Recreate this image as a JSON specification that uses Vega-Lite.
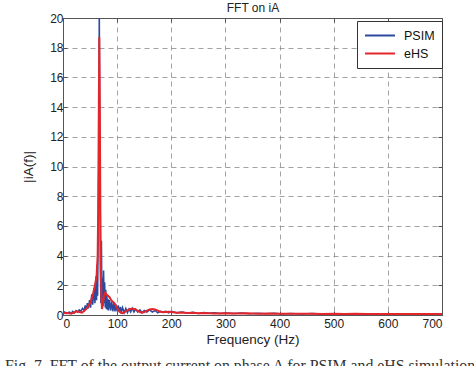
{
  "$schema": "https://vega.github.io/schema/vega-lite/v6.json",
  "width": 379,
  "height": 297,
  "autosize": {"type": "none"},
  "padding": {"left": 63, "top": 18, "right": 32, "bottom": 51},
  "background": "white",
  "title": {
    "text": "Fig. 7. FFT of the output current on phase A for PSIM and eHS simulations",
    "orient": "bottom",
    "anchor": "start",
    "frame": "group",
    "dx": -58,
    "offset": 13,
    "font": "Liberation Serif",
    "fontSize": 15.8,
    "fontWeight": "normal",
    "color": "#333"
  },
  "config": {
    "view": {"stroke": "#555", "strokeWidth": 1},
    "axis": {
      "labelFont": "Liberation Sans",
      "labelFontSize": 12,
      "labelColor": "#222",
      "titleFont": "Liberation Sans",
      "titleFontSize": 13.5,
      "titleFontWeight": "normal",
      "titleColor": "#222",
      "domainColor": "#555",
      "tickColor": "#555",
      "tickSize": -4,
      "grid": true,
      "gridColor": "#8a8a8a",
      "gridDash": [5, 4],
      "gridWidth": 0.8
    }
  },
  "data": {
    "values": [
      {"f":0,"v":0.1,"s":"PSIM"},{"f":3,"v":0.2,"s":"PSIM"},{"f":6,"v":0.1,"s":"PSIM"},{"f":9,"v":0.15,"s":"PSIM"},{"f":12,"v":0.2,"s":"PSIM"},{"f":15,"v":0.1,"s":"PSIM"},{"f":18,"v":0.25,"s":"PSIM"},{"f":21,"v":0.15,"s":"PSIM"},{"f":24,"v":0.3,"s":"PSIM"},{"f":27,"v":0.2,"s":"PSIM"},{"f":30,"v":0.35,"s":"PSIM"},{"f":33,"v":0.25,"s":"PSIM"},{"f":36,"v":0.45,"s":"PSIM"},{"f":39,"v":0.3,"s":"PSIM"},{"f":41,"v":0.65,"s":"PSIM"},{"f":43,"v":0.35,"s":"PSIM"},{"f":45,"v":0.8,"s":"PSIM"},{"f":47,"v":0.45,"s":"PSIM"},{"f":49,"v":1.0,"s":"PSIM"},{"f":51,"v":0.5,"s":"PSIM"},{"f":53,"v":1.4,"s":"PSIM"},{"f":55,"v":0.7,"s":"PSIM"},{"f":57,"v":1.8,"s":"PSIM"},{"f":59,"v":0.8,"s":"PSIM"},{"f":61,"v":2.6,"s":"PSIM"},{"f":62,"v":1.0,"s":"PSIM"},{"f":63,"v":3.4,"s":"PSIM"},{"f":64,"v":1.3,"s":"PSIM"},{"f":65,"v":5.5,"s":"PSIM"},{"f":66,"v":10,"s":"PSIM"},{"f":67,"v":21,"s":"PSIM"},{"f":68,"v":12,"s":"PSIM"},{"f":69,"v":3.0,"s":"PSIM"},{"f":70,"v":0.8,"s":"PSIM"},{"f":71,"v":5.0,"s":"PSIM"},{"f":72,"v":0.6,"s":"PSIM"},{"f":73,"v":2.5,"s":"PSIM"},{"f":74,"v":0.6,"s":"PSIM"},{"f":75,"v":3.0,"s":"PSIM"},{"f":76,"v":0.8,"s":"PSIM"},{"f":77,"v":2.2,"s":"PSIM"},{"f":78,"v":0.5,"s":"PSIM"},{"f":79,"v":1.7,"s":"PSIM"},{"f":80,"v":0.4,"s":"PSIM"},{"f":81,"v":1.3,"s":"PSIM"},{"f":82,"v":0.35,"s":"PSIM"},{"f":83,"v":1.1,"s":"PSIM"},{"f":84,"v":0.3,"s":"PSIM"},{"f":86,"v":1.0,"s":"PSIM"},{"f":88,"v":0.3,"s":"PSIM"},{"f":90,"v":0.9,"s":"PSIM"},{"f":92,"v":0.25,"s":"PSIM"},{"f":94,"v":0.8,"s":"PSIM"},{"f":96,"v":0.25,"s":"PSIM"},{"f":98,"v":0.7,"s":"PSIM"},{"f":100,"v":0.25,"s":"PSIM"},{"f":102,"v":0.65,"s":"PSIM"},{"f":104,"v":0.2,"s":"PSIM"},{"f":106,"v":0.55,"s":"PSIM"},{"f":108,"v":0.2,"s":"PSIM"},{"f":110,"v":0.5,"s":"PSIM"},{"f":113,"v":0.15,"s":"PSIM"},{"f":116,"v":0.45,"s":"PSIM"},{"f":119,"v":0.15,"s":"PSIM"},{"f":122,"v":0.4,"s":"PSIM"},{"f":125,"v":0.2,"s":"PSIM"},{"f":128,"v":0.45,"s":"PSIM"},{"f":131,"v":0.2,"s":"PSIM"},{"f":134,"v":0.4,"s":"PSIM"},{"f":138,"v":0.2,"s":"PSIM"},{"f":142,"v":0.35,"s":"PSIM"},{"f":146,"v":0.15,"s":"PSIM"},{"f":150,"v":0.3,"s":"PSIM"},{"f":155,"v":0.2,"s":"PSIM"},{"f":160,"v":0.35,"s":"PSIM"},{"f":165,"v":0.2,"s":"PSIM"},{"f":170,"v":0.3,"s":"PSIM"},{"f":175,"v":0.15,"s":"PSIM"},{"f":180,"v":0.25,"s":"PSIM"},{"f":185,"v":0.2,"s":"PSIM"},{"f":190,"v":0.25,"s":"PSIM"},{"f":195,"v":0.15,"s":"PSIM"},{"f":200,"v":0.25,"s":"PSIM"},{"f":210,"v":0.15,"s":"PSIM"},{"f":220,"v":0.2,"s":"PSIM"},{"f":230,"v":0.12,"s":"PSIM"},{"f":240,"v":0.18,"s":"PSIM"},{"f":250,"v":0.1,"s":"PSIM"},{"f":260,"v":0.17,"s":"PSIM"},{"f":270,"v":0.12,"s":"PSIM"},{"f":280,"v":0.15,"s":"PSIM"},{"f":290,"v":0.1,"s":"PSIM"},{"f":300,"v":0.14,"s":"PSIM"},{"f":315,"v":0.1,"s":"PSIM"},{"f":330,"v":0.13,"s":"PSIM"},{"f":345,"v":0.08,"s":"PSIM"},{"f":360,"v":0.12,"s":"PSIM"},{"f":375,"v":0.08,"s":"PSIM"},{"f":390,"v":0.11,"s":"PSIM"},{"f":405,"v":0.07,"s":"PSIM"},{"f":420,"v":0.1,"s":"PSIM"},{"f":440,"v":0.07,"s":"PSIM"},{"f":460,"v":0.1,"s":"PSIM"},{"f":480,"v":0.06,"s":"PSIM"},{"f":500,"v":0.09,"s":"PSIM"},{"f":520,"v":0.06,"s":"PSIM"},{"f":540,"v":0.08,"s":"PSIM"},{"f":560,"v":0.05,"s":"PSIM"},{"f":580,"v":0.08,"s":"PSIM"},{"f":600,"v":0.05,"s":"PSIM"},{"f":620,"v":0.07,"s":"PSIM"},{"f":640,"v":0.05,"s":"PSIM"},{"f":660,"v":0.07,"s":"PSIM"},{"f":680,"v":0.05,"s":"PSIM"},{"f":700,"v":0.06,"s":"PSIM"},
      {"f":0,"v":0.1,"s":"eHS"},{"f":5,"v":0.15,"s":"eHS"},{"f":10,"v":0.12,"s":"eHS"},{"f":15,"v":0.1,"s":"eHS"},{"f":20,"v":0.15,"s":"eHS"},{"f":25,"v":0.25,"s":"eHS"},{"f":30,"v":0.2,"s":"eHS"},{"f":35,"v":0.15,"s":"eHS"},{"f":40,"v":0.3,"s":"eHS"},{"f":45,"v":0.5,"s":"eHS"},{"f":50,"v":0.8,"s":"eHS"},{"f":53,"v":1.1,"s":"eHS"},{"f":56,"v":1.5,"s":"eHS"},{"f":59,"v":2.0,"s":"eHS"},{"f":62,"v":2.6,"s":"eHS"},{"f":64,"v":4.0,"s":"eHS"},{"f":65,"v":7,"s":"eHS"},{"f":66,"v":13,"s":"eHS"},{"f":67,"v":18.7,"s":"eHS"},{"f":68,"v":14,"s":"eHS"},{"f":69,"v":7,"s":"eHS"},{"f":70,"v":3.0,"s":"eHS"},{"f":71,"v":1.2,"s":"eHS"},{"f":72,"v":0.4,"s":"eHS"},{"f":74,"v":0.8,"s":"eHS"},{"f":76,"v":1.3,"s":"eHS"},{"f":78,"v":1.5,"s":"eHS"},{"f":80,"v":1.4,"s":"eHS"},{"f":83,"v":1.3,"s":"eHS"},{"f":86,"v":1.2,"s":"eHS"},{"f":89,"v":1.0,"s":"eHS"},{"f":92,"v":0.9,"s":"eHS"},{"f":95,"v":0.8,"s":"eHS"},{"f":98,"v":0.6,"s":"eHS"},{"f":101,"v":0.4,"s":"eHS"},{"f":104,"v":0.25,"s":"eHS"},{"f":107,"v":0.15,"s":"eHS"},{"f":110,"v":0.12,"s":"eHS"},{"f":114,"v":0.2,"s":"eHS"},{"f":118,"v":0.3,"s":"eHS"},{"f":122,"v":0.38,"s":"eHS"},{"f":126,"v":0.42,"s":"eHS"},{"f":130,"v":0.42,"s":"eHS"},{"f":134,"v":0.38,"s":"eHS"},{"f":138,"v":0.3,"s":"eHS"},{"f":142,"v":0.2,"s":"eHS"},{"f":146,"v":0.15,"s":"eHS"},{"f":150,"v":0.2,"s":"eHS"},{"f":155,"v":0.3,"s":"eHS"},{"f":160,"v":0.38,"s":"eHS"},{"f":165,"v":0.4,"s":"eHS"},{"f":170,"v":0.38,"s":"eHS"},{"f":175,"v":0.3,"s":"eHS"},{"f":180,"v":0.22,"s":"eHS"},{"f":185,"v":0.18,"s":"eHS"},{"f":190,"v":0.2,"s":"eHS"},{"f":195,"v":0.22,"s":"eHS"},{"f":200,"v":0.2,"s":"eHS"},{"f":210,"v":0.15,"s":"eHS"},{"f":220,"v":0.17,"s":"eHS"},{"f":230,"v":0.13,"s":"eHS"},{"f":240,"v":0.15,"s":"eHS"},{"f":250,"v":0.12,"s":"eHS"},{"f":260,"v":0.14,"s":"eHS"},{"f":280,"v":0.1,"s":"eHS"},{"f":300,"v":0.12,"s":"eHS"},{"f":320,"v":0.1,"s":"eHS"},{"f":340,"v":0.11,"s":"eHS"},{"f":360,"v":0.09,"s":"eHS"},{"f":380,"v":0.1,"s":"eHS"},{"f":400,"v":0.08,"s":"eHS"},{"f":420,"v":0.09,"s":"eHS"},{"f":440,"v":0.08,"s":"eHS"},{"f":460,"v":0.09,"s":"eHS"},{"f":480,"v":0.07,"s":"eHS"},{"f":500,"v":0.08,"s":"eHS"},{"f":520,"v":0.07,"s":"eHS"},{"f":540,"v":0.08,"s":"eHS"},{"f":560,"v":0.06,"s":"eHS"},{"f":580,"v":0.07,"s":"eHS"},{"f":600,"v":0.06,"s":"eHS"},{"f":620,"v":0.07,"s":"eHS"},{"f":640,"v":0.06,"s":"eHS"},{"f":660,"v":0.07,"s":"eHS"},{"f":680,"v":0.06,"s":"eHS"},{"f":700,"v":0.07,"s":"eHS"}
    ]
  },
  "layer": [
    {
      "transform": [{"filter": "datum.s === 'PSIM'"}],
      "mark": {"type": "line", "strokeWidth": 1.5, "clip": true, "interpolate": "linear"},
      "encoding": {
        "x": {"field": "f", "type": "quantitative", "scale": {"domain": [0, 700], "nice": false},
          "axis": {"orient": "bottom", "title": "Frequency (Hz)", "values": [0,100,200,300,400,500,600,700], "titlePadding": 3, "labelPadding": 7}},
        "y": {"field": "v", "type": "quantitative", "scale": {"domain": [0, 20], "nice": false},
          "axis": {"title": "|iA(f)|", "values": [0,2,4,6,8,10,12,14,16,18,20], "titlePadding": 14, "labelPadding": 4}},
        "color": {"field": "s", "type": "nominal",
          "scale": {"domain": ["PSIM", "eHS"], "range": ["#2b4a9e", "#e3262b"]},
          "legend": {"title": null, "orient": "none", "legendX": 294, "legendY": 3, "fillColor": "white", "strokeColor": "#333",
            "padding": 7, "symbolType": "stroke", "symbolSize": 900, "symbolStrokeWidth": 2, "clipHeight": 15,
            "labelFont": "Liberation Sans", "labelFontSize": 12.5, "labelColor": "#111", "rowPadding": 3, "labelOffset": 8}}
      }
    },
    {
      "transform": [{"filter": "datum.s === 'eHS'"}],
      "mark": {"type": "line", "strokeWidth": 2, "clip": true},
      "encoding": {
        "x": {"field": "f", "type": "quantitative", "scale": {"domain": [0, 700], "nice": false},
          "axis": {"orient": "top", "title": "FFT on iA", "titleFontSize": 12, "labels": false, "ticks": true, "grid": false, "values": [0,100,200,300,400,500,600,700], "titlePadding": 3}},
        "y": {"field": "v", "type": "quantitative", "scale": {"domain": [0, 20], "nice": false},
          "axis": {"orient": "right", "title": null, "labels": false, "grid": false, "values": [0,2,4,6,8,10,12,14,16,18,20]}},
        "color": {"field": "s", "type": "nominal"}
      }
    }
  ],
  "resolve": {"axis": {"x": "independent", "y": "independent"}}
}
